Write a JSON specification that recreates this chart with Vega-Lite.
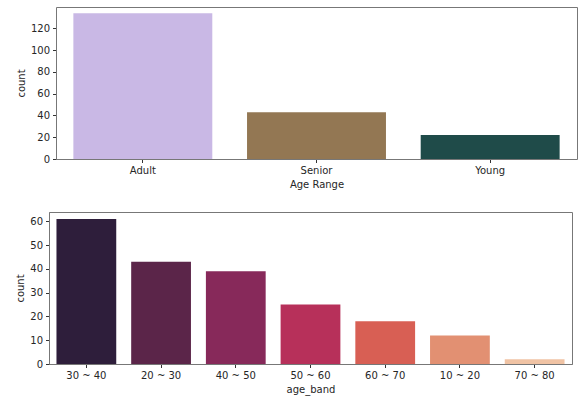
{
  "$schema": "https://vega.github.io/schema/vega-lite/v6.json",
  "padding": {"left": 15, "top": 7, "right": 3, "bottom": 5},
  "spacing": 21,
  "resolve": {"scale": {"color": "independent"}},
  "config": {
    "font": "DejaVu Sans",
    "view": {"stroke": "#777", "strokeWidth": 1},
    "axis": {
      "labelFont": "DejaVu Sans", "titleFont": "DejaVu Sans",
      "labelFontSize": 10, "titleFontSize": 10, "titleFontWeight": "normal",
      "labelColor": "#262626", "titleColor": "#262626",
      "domain": true, "domainColor": "#777", "domainWidth": 1,
      "grid": false, "tickColor": "#333", "tickSize": 3.5,
      "labelPadding": 3, "titlePadding": 4
    }
  },
  "vconcat": [
    {
      "width": 528, "height": 152,
      "view": {"stroke": null},
      "data": {"values": [
        {"age_range": "Adult", "count": 134},
        {"age_range": "Senior", "count": 43},
        {"age_range": "Young", "count": 22}
      ]},
      "resolve": {"axis": {"x": "independent", "y": "independent"}},
      "layer": [
        {
          "mark": {"type": "bar"},
          "encoding": {
            "x": {"field": "age_range", "type": "nominal", "title": "Age Range", "sort": null,
                  "scale": {"range": [7, 528], "paddingInner": 0.2, "paddingOuter": 0.1},
                  "axis": {"labelAngle": 0}},
            "y": {"field": "count", "type": "quantitative", "title": "count",
                  "scale": {"domain": [0, 139.7], "nice": false},
                  "axis": {"offset": -7, "values": [0, 20, 40, 60, 80, 100, 120]}},
            "color": {"field": "age_range", "type": "nominal", "legend": null,
                      "scale": {"domain": ["Adult", "Senior", "Young"], "range": ["#c9b8e5", "#937753", "#1f4b49"]}}
          }
        },
        {
          "mark": {"type": "bar", "opacity": 0},
          "encoding": {
            "x": {"field": "age_range", "type": "nominal", "sort": null,
                  "axis": {"orient": "top", "labels": false, "ticks": false, "title": null}},
            "y": {"field": "count", "type": "quantitative",
                  "axis": {"orient": "right", "labels": false, "ticks": false, "title": null}}
          }
        }
      ]
    },
    {
      "width": 523, "height": 152,
      "data": {"values": [
        {"age_band": "30 ~ 40", "count": 61},
        {"age_band": "20 ~ 30", "count": 43},
        {"age_band": "40 ~ 50", "count": 39},
        {"age_band": "50 ~ 60", "count": 25},
        {"age_band": "60 ~ 70", "count": 18},
        {"age_band": "10 ~ 20", "count": 12},
        {"age_band": "70 ~ 80", "count": 2}
      ]},
      "mark": {"type": "bar"},
      "encoding": {
        "x": {"field": "age_band", "type": "nominal", "title": "age_band", "sort": null,
              "scale": {"paddingInner": 0.2, "paddingOuter": 0.1},
              "axis": {"labelAngle": 0}},
        "y": {"field": "count", "type": "quantitative", "title": "count",
              "scale": {"domain": [0, 63.9], "nice": false},
              "axis": {"values": [0, 10, 20, 30, 40, 50, 60]}},
        "color": {"field": "age_band", "type": "nominal", "legend": null,
                  "scale": {"domain": ["30 ~ 40", "20 ~ 30", "40 ~ 50", "50 ~ 60", "60 ~ 70", "10 ~ 20", "70 ~ 80"],
                            "range": ["#2e1e3b", "#5b2549", "#87295a", "#b7305a", "#d85f54", "#e29072", "#f0c3a4"]}}
      }
    }
  ]
}
